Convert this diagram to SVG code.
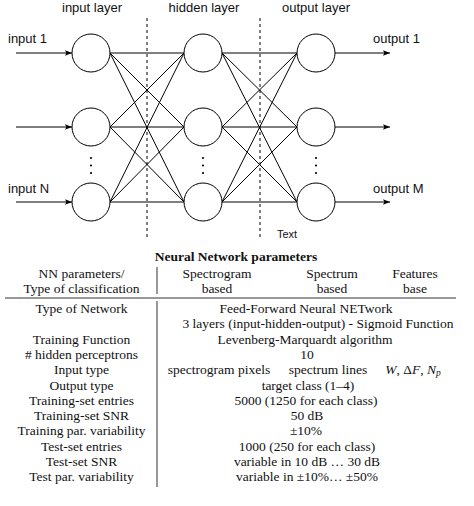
<svg xmlns="http://www.w3.org/2000/svg" width="474" height="506" viewBox="0 0 474 506">
<defs>
<marker id="arr" viewBox="0 0 10 10" refX="10" refY="5" markerWidth="7" markerHeight="7" orient="auto" markerUnits="userSpaceOnUse">
<path d="M0,1 L10,5 L0,9 L2,5 Z" fill="#000"/>
</marker>
<style>
.lab{font-family:"Liberation Sans",Arial,sans-serif;font-size:13px;fill:#111}
.nd{fill:#fff;stroke:#000;stroke-width:1}
.ln{stroke:#000;stroke-width:1;fill:none}
.ds{stroke:#000;stroke-width:1;stroke-dasharray:3,3;fill:none}
.dot{fill:#000}
.t{font-family:"Liberation Serif","Times New Roman",serif;font-size:13.5px;fill:#111;text-anchor:middle}
.rule{stroke:#333;stroke-width:1}
</style>
</defs>
<rect width="474" height="506" fill="#fff"/>
<g id="labels">
<text class="lab" x="92" y="12" text-anchor="middle">input layer</text>
<text class="lab" x="204" y="12" text-anchor="middle">hidden layer</text>
<text class="lab" x="316" y="12" text-anchor="middle">output layer</text>
<text class="lab" x="8" y="43">input 1</text>
<text class="lab" x="8" y="193">input N</text>
<text class="lab" x="373" y="43">output 1</text>
<text class="lab" x="373" y="193">output M</text>
<text class="lab" x="277" y="238" style="font-size:11px">Text</text>
</g>
<g id="connectors">
<line class="ds" x1="147" y1="18" x2="147" y2="240"/>
<line class="ds" x1="260" y1="18" x2="260" y2="240"/>
<line class="ln" x1="16" y1="53" x2="72" y2="53" marker-end="url(#arr)"/>
<line class="ln" x1="16" y1="127" x2="72" y2="127" marker-end="url(#arr)"/>
<line class="ln" x1="16" y1="202" x2="72" y2="202" marker-end="url(#arr)"/>
<line class="ln" x1="335" y1="53" x2="390" y2="53" marker-end="url(#arr)"/>
<line class="ln" x1="335" y1="127" x2="390" y2="127" marker-end="url(#arr)"/>
<line class="ln" x1="335" y1="202" x2="390" y2="202" marker-end="url(#arr)"/>
<path class="ln" d="M110,53 L184,53 M110,53 L184,127 M110,53 L184,202 M110,127 L184,53 M110,127 L184,127 M110,127 L184,202 M110,202 L184,53 M110,202 L184,127 M110,202 L184,202"/>
<path class="ln" d="M222,53 L297,53 M222,53 L297,127 M222,53 L297,202 M222,127 L297,53 M222,127 L297,127 M222,127 L297,202 M222,202 L297,53 M222,202 L297,127 M222,202 L297,202"/>
</g>
<g id="in1"><circle class="nd" cx="91" cy="53" r="19"/></g>
<g id="in2"><circle class="nd" cx="91" cy="127" r="19"/></g>
<g id="inN"><circle class="nd" cx="91" cy="202" r="19"/></g>
<g id="h1"><circle class="nd" cx="203" cy="53" r="19"/></g>
<g id="h2"><circle class="nd" cx="203" cy="127" r="19"/></g>
<g id="hN"><circle class="nd" cx="203" cy="202" r="19"/></g>
<g id="o1"><circle class="nd" cx="316" cy="53" r="19"/></g>
<g id="o2"><circle class="nd" cx="316" cy="127" r="19"/></g>
<g id="oM"><circle class="nd" cx="316" cy="202" r="19"/></g>
<g id="ellipses">
<circle class="dot" cx="91" cy="158" r="1.1"/><circle class="dot" cx="91" cy="165.5" r="1.1"/><circle class="dot" cx="91" cy="173" r="1.1"/>
<circle class="dot" cx="203" cy="158" r="1.1"/><circle class="dot" cx="203" cy="165.5" r="1.1"/><circle class="dot" cx="203" cy="173" r="1.1"/>
<circle class="dot" cx="316" cy="158" r="1.1"/><circle class="dot" cx="316" cy="165.5" r="1.1"/><circle class="dot" cx="316" cy="173" r="1.1"/>
</g>
<g id="table">
<text class="t" x="236" y="261" font-weight="bold">Neural Network parameters</text>
<text class="t" x="81.5" y="278">NN parameters/</text>
<text class="t" x="81.5" y="293">Type of classification</text>
<text class="t" x="217" y="278">Spectrogram</text>
<text class="t" x="217" y="293">based</text>
<text class="t" x="332" y="278">Spectrum</text>
<text class="t" x="332" y="293">based</text>
<text class="t" x="415" y="278">Features</text>
<text class="t" x="415" y="293">base</text>
<line class="rule" x1="5" y1="298" x2="456" y2="298"/>
<line class="rule" x1="157" y1="267" x2="157" y2="294"/>
<line class="rule" x1="157" y1="301" x2="157" y2="487"/>
<text class="t" x="81.5" y="313">Type of Network</text>
<text class="t" x="81.5" y="343.6">Training Function</text>
<text class="t" x="81.5" y="358.9"># hidden perceptrons</text>
<text class="t" x="81.5" y="374.2">Input type</text>
<text class="t" x="81.5" y="389.5">Output type</text>
<text class="t" x="81.5" y="404.8">Training-set entries</text>
<text class="t" x="81.5" y="420.1">Training-set SNR</text>
<text class="t" x="81.5" y="435.4">Training par. variability</text>
<text class="t" x="81.5" y="450.7">Test-set entries</text>
<text class="t" x="81.5" y="466">Test-set SNR</text>
<text class="t" x="81.5" y="481.3">Test par. variability</text>
<text class="t" x="306" y="313">Feed-Forward Neural NETwork</text>
<text class="t" x="318" y="328.3">3 layers (input-hidden-output) - Sigmoid Function</text>
<text class="t" x="305" y="343.6">Levenberg-Marquardt algorithm</text>
<text class="t" x="307" y="358.9">10</text>
<text class="t" x="219" y="374.2">spectrogram pixels</text>
<text class="t" x="328" y="374.2">spectrum lines</text>
<text class="t" x="413" y="374.2" font-style="italic">W<tspan font-style="normal">, Δ</tspan>F<tspan font-style="normal">, </tspan>N<tspan font-size="9.5" dy="2">p</tspan></text>
<text class="t" x="308" y="389.5">target class (1–4)</text>
<text class="t" x="306" y="404.8">5000 (1250 for each class)</text>
<text class="t" x="307" y="420.1">50 dB</text>
<text class="t" x="306" y="435.4">±10%</text>
<text class="t" x="307" y="450.7">1000 (250 for each class)</text>
<text class="t" x="307" y="466">variable in 10 dB … 30 dB</text>
<text class="t" x="307" y="481.3">variable in ±10%… ±50%</text>
</g>
</svg>
